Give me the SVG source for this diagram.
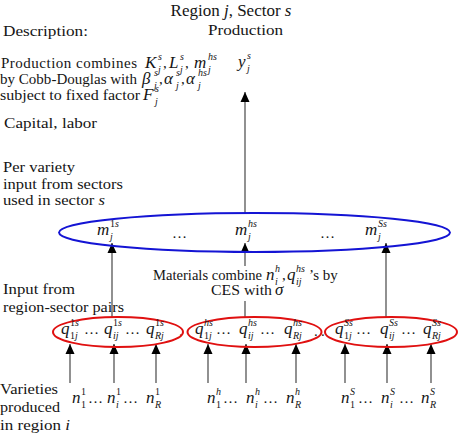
<svg xmlns="http://www.w3.org/2000/svg" width="474" height="434" viewBox="0 0 474 434" font-family="'Liberation Serif', 'DejaVu Serif', serif">
<style>
text{font-family:"Liberation Serif","DejaVu Serif",serif;fill:#151515;font-size:15px}
.i{font-style:italic}
.m{font-style:italic;font-size:17px}
.s{font-size:10px}
.si{font-size:10px;font-style:italic}
.conn line{stroke:#555;stroke-width:1.3}
</style>
<defs>
<marker id="ah" markerUnits="userSpaceOnUse" markerWidth="10" markerHeight="11" refX="10" refY="5" orient="auto">
<path d="M0,0.5 L10,5 L0,9.5 Z" fill="#000"/>
</marker>
</defs>
<rect width="474" height="434" fill="#fff"/>

<g id="title">
<text x="231" y="16" text-anchor="middle" style="font-size:17px">Region <tspan class="i">j</tspan>, Sector <tspan class="i">s</tspan></text>
</g>

<g id="labels">
<text x="3" y="36" textLength="85" lengthAdjust="spacingAndGlyphs">Description:</text>
<text x="208" y="35" textLength="75" lengthAdjust="spacingAndGlyphs">Production</text>
<text x="1" y="68" textLength="136" lengthAdjust="spacing">Production  combines</text>
<text x="145" y="68" class="m">K</text><text x="158" y="60" class="si">s</text><text x="158" y="73" class="si">j</text><text x="163" y="68">,</text>
<text x="169" y="68" class="m">L</text><text x="180" y="60" class="si">s</text><text x="180" y="73" class="si">j</text><text x="185" y="68">,</text>
<text x="194" y="68" class="m">m</text><text x="208" y="60" class="si">hs</text><text x="208" y="73" class="si">j</text>
<text x="0" y="84" textLength="137" lengthAdjust="spacingAndGlyphs">by Cobb-Douglas with</text>
<text x="142" y="84" class="m">β</text><text x="154" y="76" class="si">s</text><text x="154" y="89" class="si">j</text><text x="159" y="84">,</text>
<text x="164" y="84" class="m">α</text><text x="176" y="76" class="si">s</text><text x="176" y="89" class="si">j</text><text x="181" y="84">,</text>
<text x="186" y="84" class="m">α</text><text x="198" y="76" class="si">hs</text><text x="198" y="89" class="si">j</text>
<text x="0" y="100" textLength="140" lengthAdjust="spacingAndGlyphs">subject to fixed factor</text>
<text x="143" y="100" class="m">F</text><text x="155" y="92" class="si">s</text><text x="155" y="105" class="si">j</text>
<text x="4" y="128" textLength="93" lengthAdjust="spacingAndGlyphs">Capital, labor</text>
<text x="3" y="172" textLength="72" lengthAdjust="spacingAndGlyphs">Per variety</text>
<text x="3" y="189" textLength="120" lengthAdjust="spacingAndGlyphs">input from sectors</text>
<text x="3" y="205" textLength="102" lengthAdjust="spacingAndGlyphs">used in sector <tspan class="i">s</tspan></text>
<text x="3" y="294" textLength="72" lengthAdjust="spacingAndGlyphs">Input from</text>
<text x="3" y="312" textLength="121" lengthAdjust="spacingAndGlyphs">region-sector pairs</text>
<text x="0" y="394" textLength="58" lengthAdjust="spacingAndGlyphs">Varieties</text>
<text x="0" y="412" textLength="60" lengthAdjust="spacingAndGlyphs">produced</text>
<text x="0" y="430" textLength="70" lengthAdjust="spacingAndGlyphs">in region <tspan class="i">i</tspan></text>
<text x="153" y="280" textLength="109" lengthAdjust="spacingAndGlyphs">Materials combine</text>
<text x="266" y="280" class="m">n</text><text x="275" y="272" class="si">h</text><text x="275" y="285" class="si">i</text><text x="282" y="280">,</text>
<text x="287" y="280" class="m">q</text><text x="296" y="272" class="si">hs</text><text x="296" y="285" class="si">ij</text><text x="309" y="280">’s by</text>
<text x="211" y="295" textLength="61" lengthAdjust="spacingAndGlyphs">CES with</text><text x="275" y="295" class="m">σ</text>
</g>

<g id="output-y">
<text x="238" y="67" class="m">y</text><text x="247" y="59" class="si">s</text><text x="247" y="72" class="si">j</text>
</g>

<g id="connectors" class="conn">
<line x1="245" y1="213" x2="245" y2="92" marker-end="url(#ah)"/>
<line x1="112" y1="317" x2="112" y2="243" marker-end="url(#ah)"/>
<line x1="245" y1="266" x2="245" y2="243" marker-end="url(#ah)"/>
<line x1="245" y1="317" x2="245" y2="301"/>
<line x1="386" y1="317" x2="386" y2="243" marker-end="url(#ah)"/>
<line x1="70" y1="383" x2="70" y2="344" marker-end="url(#ah)"/>
<line x1="114" y1="383" x2="114" y2="344" marker-end="url(#ah)"/>
<line x1="156" y1="383" x2="156" y2="344" marker-end="url(#ah)"/>
<line x1="208" y1="383" x2="208" y2="344" marker-end="url(#ah)"/>
<line x1="246" y1="383" x2="246" y2="344" marker-end="url(#ah)"/>
<line x1="296" y1="383" x2="296" y2="344" marker-end="url(#ah)"/>
<line x1="345" y1="383" x2="345" y2="344" marker-end="url(#ah)"/>
<line x1="387" y1="383" x2="387" y2="344" marker-end="url(#ah)"/>
<line x1="431" y1="383" x2="431" y2="344" marker-end="url(#ah)"/>
</g>

<g id="materials-node">
<ellipse cx="254.5" cy="232.5" rx="195.5" ry="19.5" fill="none" stroke="#1414d4" stroke-width="2"/>
<text x="97" y="235" class="m">m</text><text x="110" y="227" class="s">1<tspan class="i">s</tspan></text><text x="110" y="240" class="si">j</text>
<text x="172" y="238">…</text>
<text x="235" y="235" class="m">m</text><text x="248" y="227" class="si">hs</text><text x="248" y="240" class="si">j</text>
<text x="320" y="238">…</text>
<text x="365" y="235" class="m">m</text><text x="378" y="227" class="si">Ss</text><text x="378" y="240" class="si">j</text>
</g>

<g id="q-row-dots">
<text x="179" y="336">.</text>
<text x="314" y="336">.</text>
<text x="321" y="336">.</text>
</g>

<g id="q-node-1">
<ellipse cx="118" cy="332" rx="65" ry="15" fill="none" stroke="#e01010" stroke-width="2"/>
<text x="61" y="334" class="m">q</text><text x="70" y="326" class="s">1<tspan class="i">s</tspan></text><text x="70" y="339" class="s">1<tspan class="i">j</tspan></text>
<text x="84" y="334">…</text>
<text x="104" y="334" class="m">q</text><text x="113" y="326" class="s">1<tspan class="i">s</tspan></text><text x="113" y="339" class="si">ij</text>
<text x="125" y="334">…</text>
<text x="146" y="334" class="m">q</text><text x="155" y="326" class="s">1<tspan class="i">s</tspan></text><text x="155" y="339" class="si">Rj</text>
</g>

<g id="q-node-h">
<ellipse cx="254.5" cy="332" rx="67" ry="15" fill="none" stroke="#e01010" stroke-width="2"/>
<text x="195" y="334" class="m">q</text><text x="204" y="326" class="si">hs</text><text x="204" y="339" class="s">1<tspan class="i">j</tspan></text>
<text x="216" y="334">…</text>
<text x="239" y="334" class="m">q</text><text x="248" y="326" class="si">hs</text><text x="248" y="339" class="si">ij</text>
<text x="260" y="334">…</text>
<text x="284" y="334" class="m">q</text><text x="293" y="326" class="si">hs</text><text x="293" y="339" class="si">Rj</text>
</g>

<g id="q-node-S">
<ellipse cx="391" cy="332" rx="66" ry="15" fill="none" stroke="#e01010" stroke-width="2"/>
<text x="335" y="334" class="m">q</text><text x="344" y="326" class="si">Ss</text><text x="344" y="339" class="s">1<tspan class="i">j</tspan></text>
<text x="356" y="334">…</text>
<text x="380" y="334" class="m">q</text><text x="389" y="326" class="si">Ss</text><text x="389" y="339" class="si">ij</text>
<text x="401" y="334">…</text>
<text x="423" y="334" class="m">q</text><text x="432" y="326" class="si">Ss</text><text x="432" y="339" class="si">Rj</text>
</g>

<g id="n-row-1">
<text x="72" y="403" class="m">n</text><text x="81" y="395" class="s">1</text><text x="81" y="408" class="s">1</text>
<text x="88" y="403">…</text>
<text x="107" y="403" class="m">n</text><text x="116" y="395" class="s">1</text><text x="116" y="408" class="si">i</text>
<text x="123" y="403">…</text>
<text x="146" y="403" class="m">n</text><text x="155" y="395" class="s">1</text><text x="155" y="408" class="si">R</text>
</g>
<g id="n-row-h">
<text x="207" y="403" class="m">n</text><text x="216" y="395" class="si">h</text><text x="216" y="408" class="s">1</text>
<text x="223" y="403">…</text>
<text x="246" y="403" class="m">n</text><text x="255" y="395" class="si">h</text><text x="255" y="408" class="si">i</text>
<text x="263" y="403">…</text>
<text x="286" y="403" class="m">n</text><text x="295" y="395" class="si">h</text><text x="295" y="408" class="si">R</text>
</g>
<g id="n-row-S">
<text x="341" y="403" class="m">n</text><text x="350" y="395" class="si">S</text><text x="350" y="408" class="s">1</text>
<text x="358" y="403">…</text>
<text x="381" y="403" class="m">n</text><text x="390" y="395" class="si">S</text><text x="390" y="408" class="si">i</text>
<text x="399" y="403">…</text>
<text x="421" y="403" class="m">n</text><text x="430" y="395" class="si">S</text><text x="430" y="408" class="si">R</text>
</g>
</svg>
